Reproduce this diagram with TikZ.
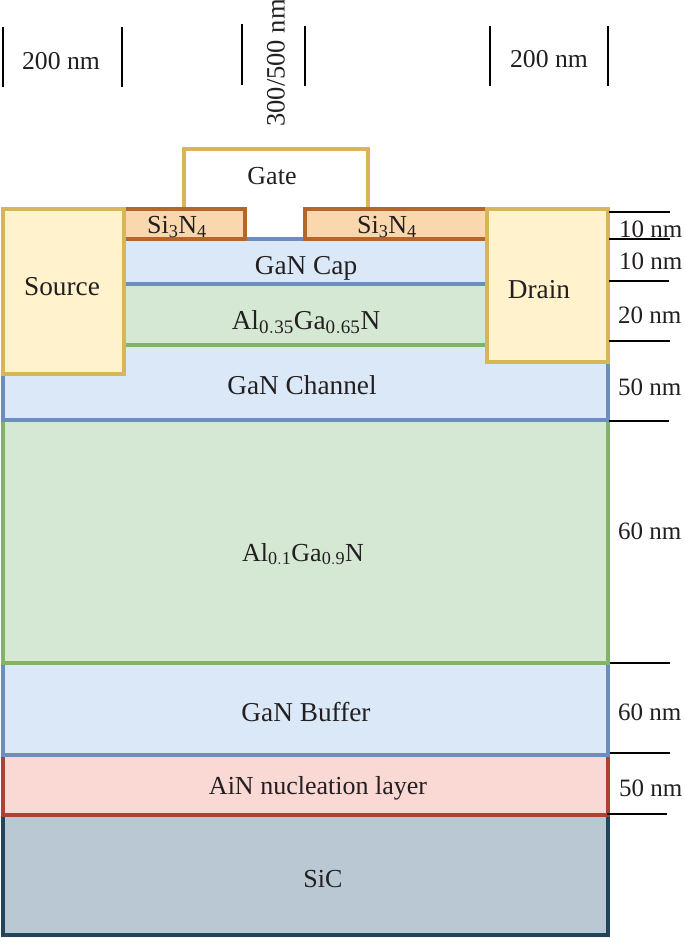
\documentclass[tikz,border=0pt]{standalone}
\usepackage{fontspec}
\setmainfont{Liberation Serif}
\definecolor{ink}{HTML}{231F20}
\definecolor{bluef}{HTML}{DAE8F7}\definecolor{blued}{HTML}{6C8EBF}
\definecolor{greenf}{HTML}{D5E8D4}\definecolor{greend}{HTML}{82B366}
\definecolor{redf}{HTML}{FAD9D5}\definecolor{redd}{HTML}{AE4132}
\definecolor{sicf}{HTML}{BAC8D3}\definecolor{sicd}{HTML}{23445D}
\definecolor{nitf}{HTML}{FAD7AC}\definecolor{nitd}{HTML}{B8652A}
\definecolor{metf}{HTML}{FFF2CC}\definecolor{metd}{HTML}{D6B656}
\tikzset{
  layer/.style={line width=4.4pt,line join=miter},
  bluelayer/.style={layer,fill=bluef,draw=blued},
  greenlayer/.style={layer,fill=greenf,draw=greend},
  redlayer/.style={layer,fill=redf,draw=redd},
  siclayer/.style={layer,fill=sicf,draw=sicd},
  nitlayer/.style={layer,fill=nitf,draw=nitd},
  metal/.style={layer,fill=metf,draw=metd},
  gateline/.style={line width=4.4pt,draw=metd,line cap=butt,line join=miter},
  tick/.style={line width=1.2pt,draw=black},
  lab/.style={text=ink,font=\fontsize{26}{30}\selectfont,inner sep=0pt},
  big/.style={lab,font=\fontsize{27.3}{31}\selectfont},
  dim/.style={lab,anchor=west,font=\fontsize{25}{29}\selectfont},
}
\newcommand{\sbs}[1]{\ensuremath{_{\mathrm{#1}}}}
\begin{document}
\begin{tikzpicture}[x=1pt,y=-1pt]
\useasboundingbox (0,0) rectangle (685,938);
% layers, bottom to top
\draw[siclayer] (3,815) rectangle (608,935);
\draw[redlayer] (3,755) rectangle (608,815);
\draw[bluelayer] (3,663) rectangle (608,755);
\draw[greenlayer] (3,420) rectangle (608,663);
\draw[bluelayer] (3,345) rectangle (608,420);
\draw[greenlayer] (115,284) rectangle (495,345);
\draw[bluelayer] (115,239) rectangle (495,284);
\draw[nitlayer] (115,209) rectangle (245,239);
\draw[nitlayer] (305,209) rectangle (495,239);
\draw[metal] (3,209) rectangle (124,374);
\draw[metal] (487,209) rectangle (608,362);
\draw[gateline] (184,207) -- (184,149) -- (368,149) -- (368,207);
% layer labels
\node[lab] (gate) at (272,176) {Gate};
\node[lab] (nitl) at (177,227) {Si\sbs{3}N\sbs{4}};
\node[lab] (nitr) at (387,227) {Si\sbs{3}N\sbs{4}};
\node[big] (cap) at (306,268) {GaN Cap};
\node[big] (alb) at (306,322) {Al\sbs{0.35}Ga\sbs{0.65}N};
\node[big] (chan) at (302,385) {GaN Channel};
\node[lab] (ala) at (303,554) {Al\sbs{0.1}Ga\sbs{0.9}N};
\node[big] (buf) at (306,712) {GaN Buffer};
\node[lab] (nuc) at (318,788) {AiN nucleation layer};
\node[lab] (sic) at (323,879) {SiC};
\node[big] (src) at (62,287) {Source};
\node[big] (drn) at (539,290) {Drain};
% top dimensions
\draw[tick] (3,27) -- (3,87);
\draw[tick] (122,27) -- (122,87);
\draw[tick] (242,24) -- (242,85);
\draw[tick] (305,26) -- (305,86);
\draw[tick] (490,26) -- (490,86);
\draw[tick] (608,26) -- (608,86);
\node[dim,anchor=center,font=\fontsize{25.7}{30}\selectfont] (da) at (61,61) {200 nm};
\node[dim,anchor=center,font=\fontsize{25.7}{30}\selectfont] (db) at (549,59) {200 nm};
\node[lab,rotate=90,font=\fontsize{26.5}{30}\selectfont] (dc) at (276,63) {300/500 nm};
% right dimensions
\draw[tick] (609,212) -- (670,212);
\draw[tick] (609,239) -- (670,239);
\draw[tick] (609,281) -- (669,281);
\draw[tick] (609,341) -- (670,341);
\draw[tick] (609,421) -- (669,421);
\draw[tick] (610,663) -- (670,663);
\draw[tick] (610,753) -- (670,753);
\draw[tick] (607,814) -- (667,814);
\node[dim] (r1) at (619,229) {10 nm};
\node[dim] (r2) at (619,261) {10 nm};
\node[dim] (r3) at (618,315) {20 nm};
\node[dim] (r4) at (618,387) {50 nm};
\node[dim] (r5) at (618,531) {60 nm};
\node[dim] (r6) at (618,712) {60 nm};
\node[dim] (r7) at (619,788) {50 nm};
\end{tikzpicture}
\end{document}
